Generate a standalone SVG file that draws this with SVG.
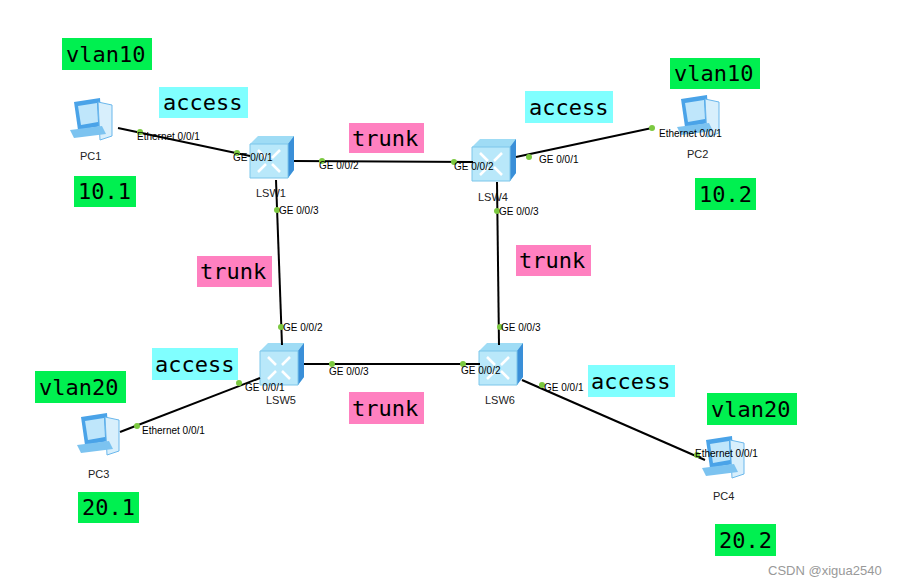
<svg xmlns="http://www.w3.org/2000/svg" width="910" height="587" viewBox="0 0 910 587">
<defs>
<style>
.lb{font-family:"DejaVu Sans Mono","Liberation Mono",monospace;font-size:22px;fill:#000}
.g{fill:#00f050}.c{fill:#80ffff}.p{fill:#ff80c0}
.pt{font-family:"Liberation Sans",Arial,sans-serif;font-size:10px;fill:#000}
.nm{font-family:"Liberation Sans",Arial,sans-serif;font-size:11px;fill:#222}
.ln{stroke:#000;stroke-width:2;fill:none}
.d{fill:#7cc940}
</style>
<g id="sw">
<path d="M-22,-14 L-14,-22 L22,-22 L22,12 L16,20 L-22,20 Z" fill="#9fdcf5"/>
<path d="M16,-14 L22,-22 L22,12 L16,20 Z" fill="#3a8fd8"/>
<path d="M-22,-14 L16,-14 L16,20 L-22,20 Z" fill="#b9e8fa" stroke="#7cc6ea"/>
<g stroke="#fff" stroke-width="2.5" fill="none"><path d="M-14,-8 L-6,0 M-14,14 L-6,6 M8,-8 L0,0 M8,14 L0,6"/></g>
</g>
<g id="pc">
<path d="M-18,-20 L8,-24 L10,4 L-14,8 Z" fill="#4aa3e8"/>
<path d="M-14,-16 L5,-19 L6,0 L-11,3 Z" fill="#bfe6fb"/>
<path d="M6,-20 L20,-17 L20,14 L8,18 Z" fill="#d8effc" stroke="#6ab7ec"/>
<path d="M-22,8 L10,4 L14,12 L-18,16 Z" fill="#7cc3f0"/>
</g>
</defs>
<rect width="910" height="587" fill="#fff"/>
<g id="LSW1"><use href="#sw" x="272" y="158"/><text class="nm" x="256" y="197">LSW1</text></g>
<g id="LSW4"><use href="#sw" x="494" y="161"/><text class="nm" x="478" y="201">LSW4</text></g>
<g id="LSW5"><use href="#sw" x="282" y="365"/><text class="nm" x="266" y="404">LSW5</text></g>
<g id="LSW6"><use href="#sw" x="501" y="365"/><text class="nm" x="485" y="404">LSW6</text></g>
<g id="PC1"><use href="#pc" x="92" y="122"/><text class="nm" x="80" y="160">PC1</text></g>
<g id="PC2"><use href="#pc" x="699" y="119"/><text class="nm" x="687" y="158">PC2</text></g>
<g id="PC3"><use href="#pc" x="99" y="437"/><text class="nm" x="88" y="478">PC3</text></g>
<g id="PC4"><use href="#pc" x="724" y="460"/><text class="nm" x="713" y="500">PC4</text></g>
<g id="connectors">
<line class="ln" x1="118" y1="128" x2="250" y2="156"/>
<line class="ln" x1="294" y1="161" x2="473" y2="162"/>
<line class="ln" x1="516" y1="157" x2="652" y2="128"/>
<line class="ln" x1="276" y1="180" x2="282" y2="345"/>
<line class="ln" x1="497" y1="182" x2="499" y2="345"/>
<line class="ln" x1="304" y1="364" x2="480" y2="364"/>
<line class="ln" x1="260" y1="378" x2="120" y2="432"/>
<line class="ln" x1="522" y1="380" x2="705" y2="460"/>
<g class="d">
<circle cx="140" cy="132" r="3"/><circle cx="237" cy="153" r="3"/><circle cx="322" cy="161" r="3"/><circle cx="277" cy="210" r="3"/>
<circle cx="454" cy="162" r="3"/><circle cx="529" cy="157" r="3"/><circle cx="652" cy="128" r="3"/><circle cx="497" cy="211" r="3"/>
<circle cx="281" cy="327" r="3"/><circle cx="239" cy="383" r="3"/><circle cx="332" cy="364" r="3"/><circle cx="137" cy="426" r="3"/>
<circle cx="463" cy="364" r="3"/><circle cx="500" cy="327" r="3"/><circle cx="542" cy="385" r="3"/><circle cx="697" cy="455" r="3"/>
</g>
<g class="pt">
<text x="137" y="140">Ethernet 0/0/1</text><text x="233" y="161">GE 0/0/1</text><text x="319" y="169">GE 0/0/2</text><text x="279" y="214">GE 0/0/3</text>
<text x="454" y="170">GE 0/0/2</text><text x="539" y="163">GE 0/0/1</text><text x="659" y="137">Ethernet 0/0/1</text><text x="499" y="215">GE 0/0/3</text>
<text x="283" y="331">GE 0/0/2</text><text x="245" y="391">GE 0/0/1</text><text x="329" y="375">GE 0/0/3</text><text x="142" y="434">Ethernet 0/0/1</text>
<text x="461" y="374">GE 0/0/2</text><text x="501" y="331">GE 0/0/3</text><text x="544" y="391">GE 0/0/1</text><text x="695" y="457">Ethernet 0/0/1</text>
</g>
</g>
<g id="labels">
<rect class="g" x="62" y="38" width="90" height="32"/><text class="lb" x="66" y="62">vlan10</text>
<rect class="c" x="159" y="87" width="89" height="31"/><text class="lb" x="163" y="110">access</text>
<rect class="p" x="349" y="123" width="75" height="30"/><text class="lb" x="352" y="146">trunk</text>
<rect class="c" x="525" y="91" width="88" height="32"/><text class="lb" x="529" y="115">access</text>
<rect class="g" x="670" y="58" width="90" height="31"/><text class="lb" x="674" y="81">vlan10</text>
<rect class="g" x="74" y="176" width="62" height="31"/><text class="lb" x="78" y="199">10.1</text>
<rect class="g" x="695" y="178" width="61" height="32"/><text class="lb" x="699" y="202">10.2</text>
<rect class="p" x="197" y="256" width="75" height="31"/><text class="lb" x="200" y="279">trunk</text>
<rect class="p" x="516" y="245" width="75" height="31"/><text class="lb" x="519" y="268">trunk</text>
<rect class="c" x="152" y="348" width="86" height="32"/><text class="lb" x="155" y="372">access</text>
<rect class="g" x="35" y="371" width="91" height="32"/><text class="lb" x="39" y="395">vlan20</text>
<rect class="p" x="349" y="392" width="75" height="32"/><text class="lb" x="352" y="416">trunk</text>
<rect class="c" x="588" y="365" width="87" height="32"/><text class="lb" x="591" y="389">access</text>
<rect class="g" x="707" y="393" width="90" height="32"/><text class="lb" x="711" y="417">vlan20</text>
<rect class="g" x="78" y="492" width="61" height="31"/><text class="lb" x="82" y="515">20.1</text>
<rect class="g" x="715" y="524" width="61" height="32"/><text class="lb" x="719" y="548">20.2</text>
</g>
<text x="768" y="575" font-family="Liberation Sans,Arial,sans-serif" font-size="13" fill="#999">CSDN @xigua2540</text>
</svg>
